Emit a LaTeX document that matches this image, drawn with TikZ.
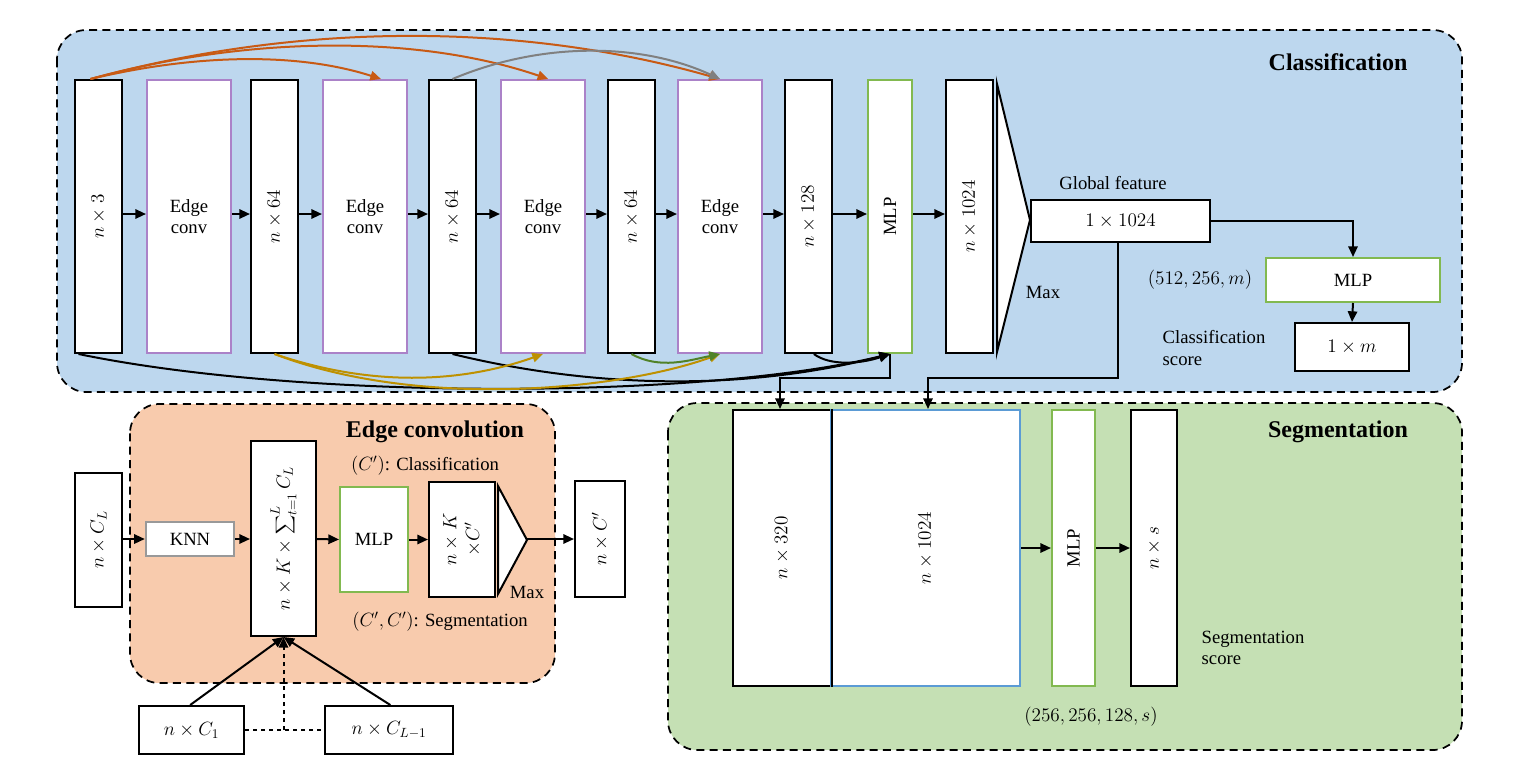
\documentclass[tikz,border=0pt]{standalone}
\usepackage{fontspec}
\setmainfont{Liberation Serif}
\usetikzlibrary{arrows.meta}
\definecolor{cls}{RGB}{189,215,238}
\definecolor{edg}{RGB}{248,203,173}
\definecolor{seg}{RGB}{197,224,180}
\definecolor{pur}{RGB}{171,130,200}
\definecolor{grn}{RGB}{130,185,80}
\definecolor{blu}{RGB}{91,155,213}
\definecolor{org}{RGB}{200,90,20}
\definecolor{gld}{RGB}{190,145,0}
\definecolor{dgr}{RGB}{80,130,40}
\begin{document}
\begin{tikzpicture}[x=0.75pt,y=-0.75pt,
  every node/.style={font=\fontsize{14}{16}\selectfont},
  blk/.style={draw,line width=1.5pt,fill=white,inner sep=0pt},
  pbox/.style={draw=pur,line width=1.5pt,fill=white,inner sep=0pt,align=center},
  gbox/.style={draw=grn,line width=1.5pt,fill=white,inner sep=0pt},
  panel/.style={draw,dashed,line width=1.3pt,rounded corners=22pt,dash pattern=on 6pt off 4pt},
  ar/.style={line width=1.5pt,-{Triangle[length=8pt,width=7pt]}},
  title/.style={font=\fontsize{18}{20}\selectfont\bfseries}]
\useasboundingbox (0,0) rectangle (1521,765);
% panels
\draw[panel,fill=cls] (57,30) rectangle (1462,392);
\draw[panel,fill=edg] (130,404) rectangle (555,683);
\draw[panel,fill=seg] (668,403) rectangle (1462,750);
\node[title] (tc) at (1338,62) {Classification};
\node[title] (te) at (435,432) {Edge convolution};
\node[title] (ts) at (1338,432) {Segmentation};
% top row
\newcommand{\vb}[5]{\node[#1,minimum width=#3*0.75pt,minimum height=273*0.75pt] (#2) at (#4,216.5) {#5};}
\vb{blk}{b1}{47}{98.5}{\rotatebox{90}{$n\times 3$}}
\vb{pbox}{e1}{84}{189}{Edge\\conv}
\vb{blk}{b2}{47}{274.5}{\rotatebox{90}{$n\times 64$}}
\vb{pbox}{e2}{84}{365}{Edge\\conv}
\vb{blk}{b3}{47}{452.5}{\rotatebox{90}{$n\times 64$}}
\vb{pbox}{e3}{84}{543}{Edge\\conv}
\vb{blk}{b4}{47}{631.5}{\rotatebox{90}{$n\times 64$}}
\vb{pbox}{e4}{84}{720}{Edge\\conv}
\vb{blk}{b5}{47}{808.5}{\rotatebox{90}{$n\times 128$}}
\vb{gbox}{m1}{44}{890}{\rotatebox{90}{MLP}}
\vb{blk}{b6}{47}{969.5}{\rotatebox{90}{$n\times 1024$}}
\foreach \a/\b in {b1/e1,e1/b2,b2/e2,e2/b3,b3/e3,e3/b4,b4/e4,e4/b5,b5/m1,m1/b6}
  \draw[ar] (\a.east|-0,214) -- (\b.west|-0,214);
\draw[line width=1.5pt,fill=white] (997,84) -- (1030,220) -- (997,352) -- cycle;
\node[blk,minimum width=179*0.75pt,minimum height=42*0.75pt] (gf) at (1120.5,221) {$1\times 1024$};
\node (gfl) at (1113,183) {Global feature};
\node (max1) at (1043,292) {Max};
\node[gbox,minimum width=174*0.75pt,minimum height=44*0.75pt] (m2) at (1353,280) {MLP};
\node (p2) at (1200,280) {$(512,256,m)$};
\node[blk,minimum width=114*0.75pt,minimum height=48*0.75pt] (cs) at (1352,347) {$1\times m$};
\node[align=left,anchor=west] (csl) at (1158,348) {Classification\\score};
\draw[ar] (gf.east) -| (m2.north);
\draw[ar] (m2.south) -- (cs.north);
% skip arcs top
\draw[ar,org] ([xshift=-6pt]b1.north) .. controls (200,53) and (300,53) .. ([xshift=12pt]e2.north);
\draw[ar,org] ([xshift=-6pt]b1.north) .. controls (250,35) and (420,35) .. ([xshift=4pt]e3.north);
\draw[ar,org] ([xshift=-6pt]b1.north) .. controls (300,22) and (520,22) .. ([xshift=0pt]e4.north);
\draw[ar,gray] ([xshift=0pt]b3.north) .. controls (540,42) and (640,42) .. ([xshift=0pt]e4.north);
% bottom curves
\draw[ar] ([xshift=-15pt]b1.south) .. controls (300,400) and (700,400) .. (m1.south);
\draw[ar] (b3.south) .. controls (600,390) and (750,390) .. (m1.south);
\draw[ar] ([xshift=4pt]b5.south) .. controls (830,366) and (860,364) .. (m1.south);
\draw[ar,gld] (b2.south) .. controls (380,390) and (470,380) .. (e3.south);
\draw[ar,gld] (b2.south) .. controls (420,410) and (620,390) .. (e4.south);
\draw[ar,dgr] (b4.south) .. controls (660,370) and (690,360) .. (e4.south);
% segmentation
\node[blk,minimum width=98*0.75pt,minimum height=276*0.75pt] (s1) at (782,548) {\rotatebox{90}{$n\times 320$}};
\node[draw=blu,line width=1.5pt,fill=white,inner sep=0pt,minimum width=189*0.75pt,minimum height=276*0.75pt] (s2) at (925.5,548) {\rotatebox{90}{$n\times 1024$}};
\draw[line width=1.5pt] (s1.north east) -- (s1.south east);
\node[gbox,minimum width=43*0.75pt,minimum height=276*0.75pt] (m3) at (1073.5,548) {\rotatebox{90}{MLP}};
\node[blk,minimum width=46*0.75pt,minimum height=276*0.75pt] (s3) at (1154,548) {\rotatebox{90}{$n\times s$}};
\draw[ar] (s2.east) -- (m3.west);
\draw[ar] (m3.east) -- (s3.west);
\node (p3) at (1091,717) {$(256,256,128,s)$};
\node[align=left,anchor=west] (ssl) at (1197,648) {Segmentation\\score};
\draw[ar] (m1.south) -- (890,378) -| (s1.north-|780,0);
\draw[ar] (gf.south-|1118,0) -- (1118,378) -| (s2.north-|928,0);
% edge conv detail
\node[blk,minimum width=47*0.75pt,minimum height=134*0.75pt] (x1) at (98.5,540) {\rotatebox{90}{$n\times C_L$}};
\node[draw=gray!80,line width=1.8pt,fill=white,minimum width=88*0.75pt,minimum height=34*0.75pt,inner sep=0pt] (knn) at (190,539) {KNN};
\node[blk,minimum width=65*0.75pt,minimum height=195*0.75pt] (big) at (283.5,538.5) {\rotatebox{90}{$n\times K\times \displaystyle\sum\nolimits_{t=1}^{L} C_L$}};
\node[gbox,minimum width=68*0.75pt,minimum height=105*0.75pt] (m4) at (374,539.5) {MLP};
\node[blk,minimum width=66*0.75pt,minimum height=115*0.75pt,align=center] (nk) at (462,539.5) {\rotatebox{90}{\shortstack{$n\times K$\\[2pt]$\times C'$}}};
\draw[line width=1.5pt,fill=white] (498,486) -- (527,540) -- (498,594) -- cycle;
\node (max2) at (527,592) {Max};
\node[blk,minimum width=50*0.75pt,minimum height=116*0.75pt] (out) at (600,539) {\rotatebox{90}{$n\times C'$}};
\draw[ar] (x1.east|-0,539) -- (knn.west);
\draw[ar] (knn.east) -- (big.west|-0,539);
\draw[ar] (big.east|-0,539) -- (m4.west);
\draw[ar] (m4.east) -- (nk.west);
\draw[ar] (527,539) -- (out.west|-0,539);
\node (lc) at (425,466) {$(C')$: Classification};
\node (ls) at (440,622) {$(C',C')$: Segmentation};
\node[blk,minimum width=105*0.75pt,minimum height=48*0.75pt] (c1) at (191.5,730) {$n\times C_1$};
\node[blk,minimum width=128*0.75pt,minimum height=48*0.75pt] (cl) at (389,730) {$n\times C_{L-1}$};
\draw[ar] ([xshift=-1pt]c1.north) -- (big.south);
\draw[ar] ([xshift=1pt]cl.north) -- (big.south);
\draw[dashed,line width=0.8pt] (c1.east) -- (cl.west);
\draw[ar,dashed] (big.south|-c1.east) -- (big.south);
\end{tikzpicture}
\end{document}
